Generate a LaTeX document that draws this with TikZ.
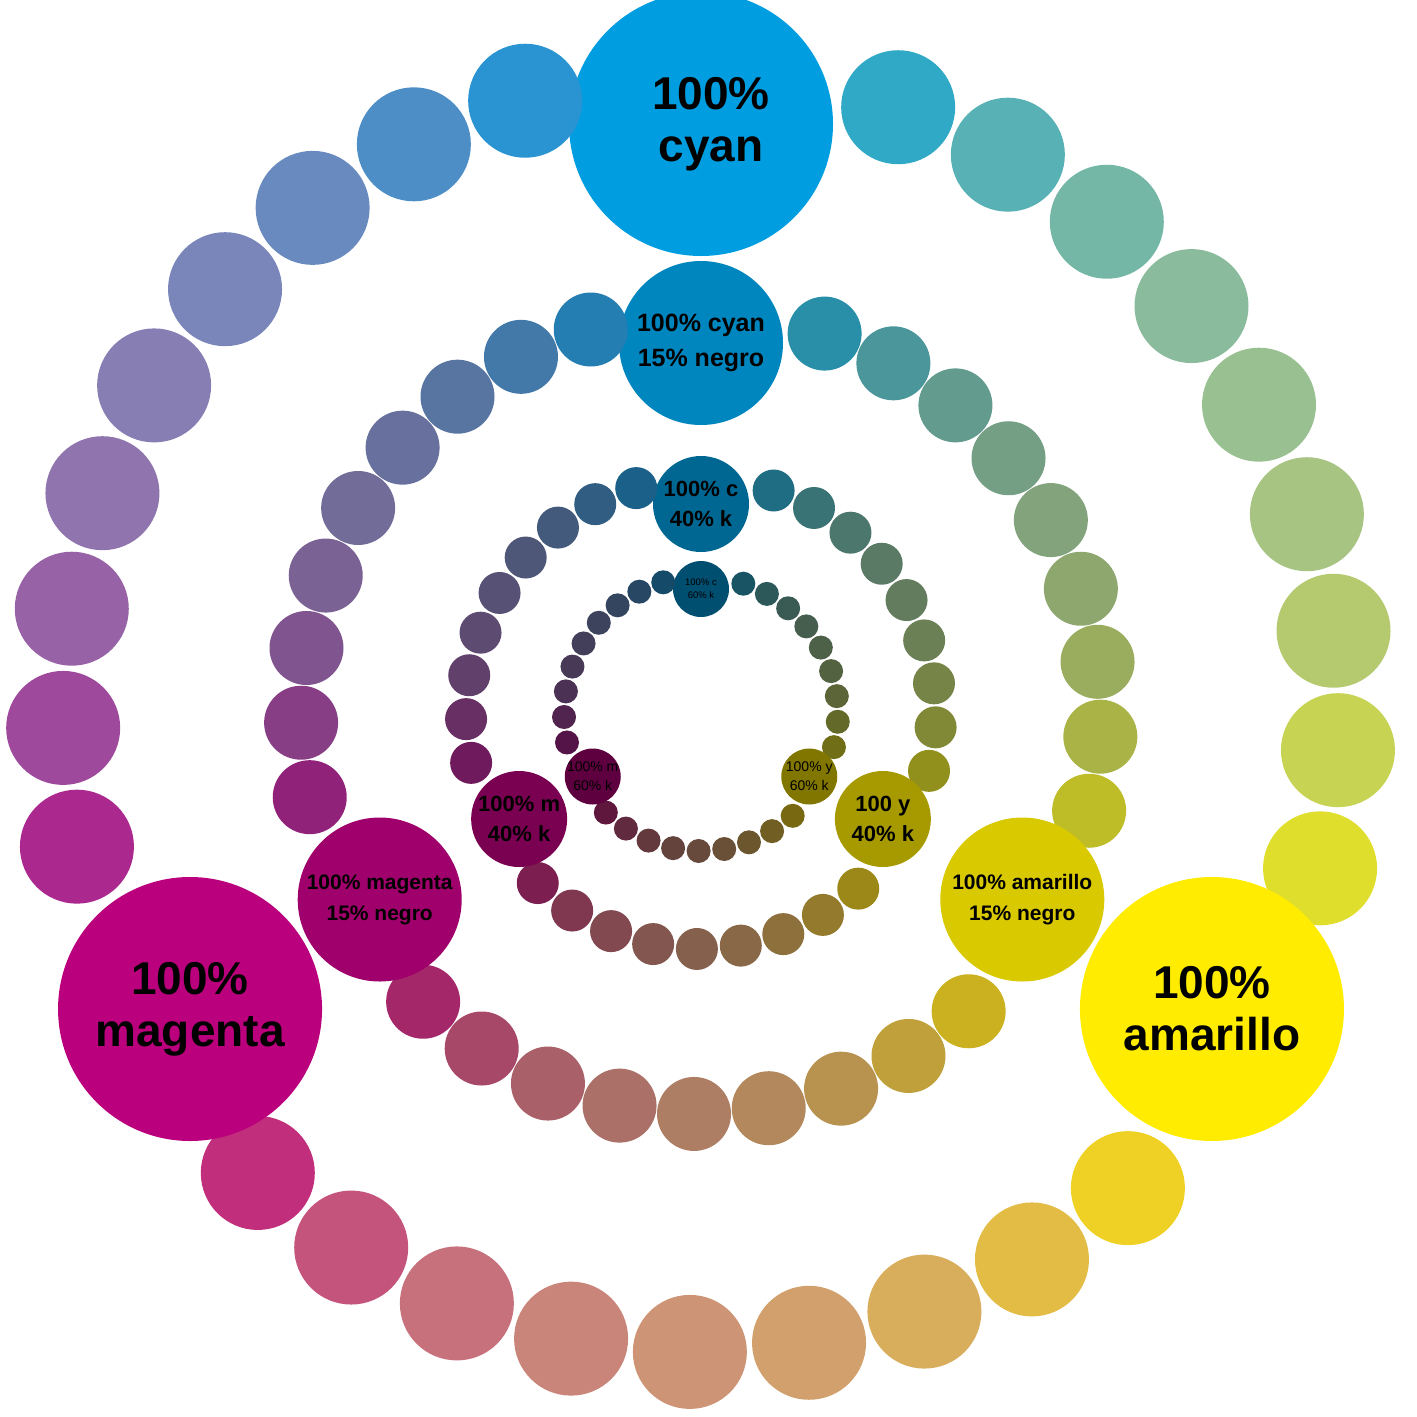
\documentclass[tikz,border=0pt]{standalone}
\usepackage{fontspec}
\setmainfont{Liberation Sans}
\begin{document}
\definecolor{C}{RGB}{0,158,224}
\definecolor{Y}{RGB}{255,236,0}
\definecolor{M}{RGB}{187,0,126}
\definecolor{G}{RGB}{185,185,185}
\begin{tikzpicture}[x=1pt,y=-1pt,
  big/.style={font=\bfseries\fontsize{46}{52}\selectfont,align=center},
  mid/.style={font=\bfseries\fontsize{21}{31}\selectfont,align=center},
  sm/.style={font=\bfseries\fontsize{22}{30}\selectfont,align=center},
  tiny/.style={font=\fontsize{14}{19}\selectfont,align=center}]
\useasboundingbox (0,0) rectangle (1417,1417);
\coordinate (O) at (701,714);
\foreach \R/\Rb/\rs/\rb/\k in {638/590/57/132/0, 400/371/37/82/15, 235/210/21/48/35, 137/125/12/28/50}{
  \foreach \s in {0,1,2}{
    \ifcase\s \def\A{C}\def\B{Y}\or \def\A{Y}\def\B{M}\or \def\A{M}\def\B{C}\fi
    \pgfmathtruncatemacro\kk{100-\k}
    \pgfmathsetmacro\ang{-90+120*\s}
    \fill[\A!\kk!black] ([shift={(\ang:\Rb)}]O) circle (\rb pt);
    \foreach \j in {0,...,8}{
      \pgfmathtruncatemacro\t{(\j+1)*10}
      \pgfmathtruncatemacro\p{100-\t}
      \pgfmathtruncatemacro\q{100-45*sin(\t*1.8)}
      \pgfmathsetmacro\ang{-90+120*\s+18+10.75*\j}
      \colorlet{cur}{\A!\p!\B!\q!G!\kk!black}
      \fill[cur] ([shift={(\ang:\R)}]O) circle (\rs pt);
    }
  }
}
\node[big] (lc1) at ([shift={(-90:590)}]O) [xshift=10pt] {100\%\\cyan};
\node[big] (ly1) at ([shift={(30:590)}]O) {100\%\\amarillo};
\node[big] (lm1) at ([shift={(150:590)}]O) {100\%\\magenta};
\node[mid,font=\bfseries\fontsize{25}{35}\selectfont] (lc2) at ([shift={(-90:371)}]O) {100\% cyan\\15\% negro};
\node[mid] (ly2) at ([shift={(30:371)}]O) {100\% amarillo\\15\% negro};
\node[mid] (lm2) at ([shift={(150:371)}]O) {100\% magenta\\15\% negro};
\node[sm] (lc3) at ([shift={(-90:210)}]O) {100\% c\\40\% k};
\node[sm] (ly3) at ([shift={(30:210)}]O) {100 y\\40\% k};
\node[sm] (lm3) at ([shift={(150:210)}]O) {100\% m\\40\% k};
\node[tiny,font=\fontsize{9.5}{13}\selectfont] (lc4) at ([shift={(-90:125)}]O) {100\% c\\60\% k};
\node[tiny] (ly4) at ([shift={(30:125)}]O) {100\% y\\60\% k};
\node[tiny] (lm4) at ([shift={(150:125)}]O) {100\% m\\60\% k};
\end{tikzpicture}
\end{document}
